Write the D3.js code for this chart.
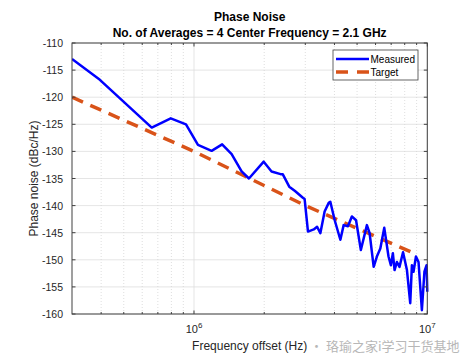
<!DOCTYPE html>
<html><head><meta charset="utf-8">
<script src="https://cdn.jsdelivr.net/npm/d3@7"></script>
<style>body{margin:0;background:#fff} svg{display:block}</style>
</head><body><svg id="c" width="474" height="364"></svg>
<script>
const measuredFreq = [3.0e5,3.95e5,6.59e5,7.95e5,9.24e5,1.04e6,1.19e6,1.32e6,1.45e6,1.60e6,1.72e6,1.99e6,2.15e6,2.35e6,2.40e6,2.56e6,2.71e6,2.92e6,2.98e6,3.08e6,3.26e6,3.37e6,3.48e6,3.63e6,3.78e6,3.84e6,4.01e6,4.24e6,4.38e6,4.57e6,4.75e6,4.95e6,5.19e6,5.51e6,5.66e6,5.89e6,6.08e6,6.29e6,6.54e6,6.82e6,6.98e6,7.12e6,7.24e6,7.41e6,7.60e6,7.87e6,8.18e6,8.45e6,8.59e6,8.73e6,8.94e6,9.17e6,9.48e6,9.72e6,9.93e6,1.0e7];
const measuredDb = [-112.95,-116.8,-125.6,-123.9,-125.0,-128.8,-129.9,-128.7,-130.5,-133.7,-135.0,-131.9,-133.7,-134.2,-134.2,-136.5,-137.3,-138.5,-138.8,-144.8,-144.4,-143.9,-145.1,-141.1,-139.5,-139.3,-142.7,-146.3,-143.6,-143.8,-142.0,-142.7,-148.2,-143.6,-145.1,-151.3,-149.4,-147.9,-144.1,-149.4,-151.0,-148.8,-151.9,-150.4,-151.3,-148.6,-151.9,-158.0,-151.0,-152.2,-149.4,-150.4,-159.3,-152.2,-151.0,-155.9];
const targetFreq = [3e5,1e6,3e6,9e6];
const targetDb = [-120,-130,-140,-149];
const yTicks = [-160,-155,-150,-145,-140,-135,-130,-125,-120,-115,-110];
const xMajor = [1e6,1e7];
const xMajorExp = ["6","7"];
const xMinor = [4e5,5e5,6e5,7e5,8e5,9e5,2e6,3e6,4e6,5e6,6e6,7e6,8e6,9e6];
const seriesNames = ["Measured","Target"];
const titleLines = ["Phase Noise","No. of Averages = 4 Center Frequency = 2.1 GHz"];
const xLabel = "Frequency offset (Hz)";
const yLabel = "Phase noise (dBc/Hz)";
const watermark = "· 珞瑜之家i学习干货基地";

const svg = d3.select("#c");
const L=72, R=427.3, T=43, B=314;
const x = d3.scaleLog().domain([3e5,1e7]).range([L,R]);
const y = d3.scaleLinear().domain([-160,-110]).range([B,T]);
const font = "'Liberation Sans', Arial, sans-serif";
const axisCol = "#404040", txtCol = "#262626";

svg.append("rect").attr("x",L).attr("y",T).attr("width",R-L).attr("height",B-T).attr("fill","#fff");
const g = svg.append("g");
// grid
g.selectAll(".hg").data(yTicks).enter().append("line")
  .attr("x1",L).attr("x2",R).attr("y1",d=>y(d)).attr("y2",d=>y(d))
  .attr("stroke","#dedede").attr("stroke-width",0.8);
g.selectAll(".vmg").data(xMinor).enter().append("line")
  .attr("x1",d=>x(d)).attr("x2",d=>x(d)).attr("y1",T).attr("y2",B)
  .attr("stroke","#d6d6d6").attr("stroke-width",0.8).attr("stroke-dasharray","1,2");
g.selectAll(".vg").data(xMajor).enter().append("line")
  .attr("x1",d=>x(d)).attr("x2",d=>x(d)).attr("y1",T).attr("y2",B)
  .attr("stroke","#dedede").attr("stroke-width",0.8);

// clip
svg.append("clipPath").attr("id","clp").append("rect").attr("x",L).attr("y",T-2).attr("width",R-L+2).attr("height",B-T+4);
const lineGen = d3.line().x(d=>x(d[0])).y(d=>y(d[1]));
const tData = targetFreq.map((f,i)=>[f,targetDb[i]]);
const mData = measuredFreq.map((f,i)=>[f,measuredDb[i]]);
svg.append("path").attr("d",lineGen(tData)).attr("fill","none")
  .attr("stroke","#D95319").attr("stroke-width",3.5).attr("stroke-dasharray","12,8").attr("clip-path","url(#clp)");
svg.append("path").attr("d",lineGen(mData)).attr("fill","none")
  .attr("stroke","#0000FF").attr("stroke-width",2.5).attr("stroke-linejoin","round").attr("clip-path","url(#clp)");

// axes box
svg.append("rect").attr("x",L).attr("y",T).attr("width",R-L).attr("height",B-T)
  .attr("fill","none").attr("stroke",axisCol).attr("stroke-width",1);
const tl=3.5;
// y ticks
yTicks.forEach(v=>{
  svg.append("line").attr("x1",L).attr("x2",L+tl).attr("y1",y(v)).attr("y2",y(v)).attr("stroke",axisCol);
  svg.append("line").attr("x1",R).attr("x2",R-tl).attr("y1",y(v)).attr("y2",y(v)).attr("stroke",axisCol);
  svg.append("text").attr("x",L-9).attr("y",y(v)+4).attr("text-anchor","end")
    .attr("font-family",font).attr("font-size",10.5).attr("fill",txtCol).text(v);
});
xMinor.forEach(v=>{
  svg.append("line").attr("x1",x(v)).attr("x2",x(v)).attr("y1",B).attr("y2",B-2).attr("stroke",axisCol);
  svg.append("line").attr("x1",x(v)).attr("x2",x(v)).attr("y1",T).attr("y2",T+2).attr("stroke",axisCol);
});
xMajor.forEach((v,i)=>{
  svg.append("line").attr("x1",x(v)).attr("x2",x(v)).attr("y1",B).attr("y2",B-tl).attr("stroke",axisCol);
  svg.append("line").attr("x1",x(v)).attr("x2",x(v)).attr("y1",T).attr("y2",T+tl).attr("stroke",axisCol);
  const t = svg.append("text").attr("x",x(v)).attr("y",B+19).attr("text-anchor","middle")
    .attr("font-family",font).attr("font-size",11).attr("fill",txtCol);
  t.append("tspan").text("10");
  t.append("tspan").attr("dy",-5).attr("font-size",8).text(xMajorExp[i]);
});

// titles
titleLines.forEach((s,i)=>{
  svg.append("text").attr("x",(L+R)/2).attr("y",20.5+i*16.5).attr("text-anchor","middle")
    .attr("font-family",font).attr("font-weight","bold").attr("font-size",12).attr("fill","#000").text(s);
});
svg.append("text").attr("x",(L+R)/2).attr("y",350).attr("text-anchor","middle")
  .attr("font-family",font).attr("font-size",12).attr("fill",txtCol).text(xLabel);
svg.append("text").attr("transform",`translate(38,${(T+B)/2}) rotate(-90)`).attr("text-anchor","middle")
  .attr("font-family",font).attr("font-size",12).attr("fill",txtCol).text(yLabel);

// legend
const lg = svg.append("g");
lg.append("rect").attr("x",333).attr("y",50).attr("width",85).attr("height",30)
  .attr("fill","#fff").attr("stroke",axisCol).attr("stroke-width",0.8);
lg.append("line").attr("x1",336).attr("x2",369).attr("y1",59).attr("y2",59).attr("stroke","#0000FF").attr("stroke-width",2.5);
lg.append("line").attr("x1",336).attr("x2",369).attr("y1",72).attr("y2",72).attr("stroke","#D95319").attr("stroke-width",3.5).attr("stroke-dasharray","12,9");
seriesNames.forEach((s,i)=>{
  lg.append("text").attr("x",370.5).attr("y",62.5+i*13).attr("font-family",font).attr("font-size",10).attr("fill","#000").text(s);
});

// watermark
svg.append("text").attr("x",310).attr("y",351).attr("font-family","'Noto Sans CJK SC', sans-serif")
  .attr("font-size",13).attr("fill","#b0b0b0").attr("opacity",0.9).text(watermark);
</script></body></html>
